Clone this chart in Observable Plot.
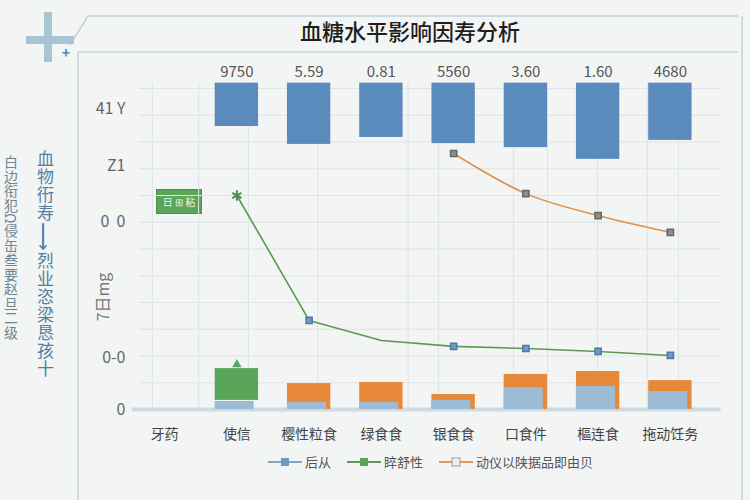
<!DOCTYPE html>
<html><head><meta charset="utf-8">
<script src="https://cdn.jsdelivr.net/npm/d3@7"></script>
<script src="https://cdn.jsdelivr.net/npm/@observablehq/plot@0.6"></script>
<style>
body{margin:0;background:#f3f4f4;font-family:"Noto Sans CJK SC","Noto Sans",sans-serif;}
#wrap{position:relative;width:750px;height:500px;overflow:hidden;background:#f3f4f4;}
#plot{position:absolute;left:0;top:0;}
.abs{position:absolute;}
.vert{writing-mode:vertical-rl;white-space:nowrap;}
#legend{position:absolute;top:452px;left:268px;display:flex;gap:16px;font-size:13px;color:#555;align-items:center;}
#legend span.item{display:flex;align-items:center;gap:3px;}
</style></head>
<body><div id="wrap">
<svg class="abs" width="750" height="500" style="left:0;top:0">
  <polyline points="738,16 88,16 70,45" fill="none" stroke="#bfd0da" stroke-width="1.5"/>
  <line x1="78" y1="52" x2="738" y2="52" stroke="#c6d4dc" stroke-width="1.5"/>
  <line x1="78" y1="52" x2="78" y2="500" stroke="#c6d4dc" stroke-width="1.5"/>
  <line x1="742" y1="16" x2="742" y2="500" stroke="#c6d4dc" stroke-width="1.5"/>
  <rect x="44" y="12" width="8" height="50" fill="#a9c5d4"/>
  <rect x="26" y="36" width="48" height="8" fill="#a9c5d4"/>
  <text x="66" y="58" font-size="14" fill="#4f86b8" text-anchor="middle" font-weight="bold">+</text>
</svg>
<div class="abs" style="left:0;width:820px;top:14px;text-align:center;font-size:22px;color:#1e1e1e;font-weight:500;">血糖水平影响因寿分析</div>
<div class="abs vert" style="left:31px;top:150px;font-size:17px;color:#4f7fa6;letter-spacing:1px;">血物衎寿<span style="font-size:20px">⟶</span>烈业恣梁恳孩十</div>
<div class="abs vert" style="left:1px;top:155px;font-size:14px;color:#6f8594;letter-spacing:0.5px;">白边衔犯Ω侵缶叁要赵旦二级</div>
<div class="abs" style="left:78px;top:285px;font-size:16px;color:#777;transform:rotate(-90deg);">7日mg</div>
<div class="abs" style="left:156px;top:189px;width:44px;height:23px;background:#5aa55a;border:1px solid #4a9050;color:#e8f4e8;font-size:10px;line-height:23px;text-align:center;">日 ⊞ 粘</div>
<div id="plot"></div>
<div id="legend">
  <span class="item"><svg width="34" height="10"><line x1="0" y1="5" x2="34" y2="5" stroke="#7ea6c8" stroke-width="2"/><rect x="13" y="1" width="8" height="8" fill="#6f98c2"/></svg>后从</span>
  <span class="item"><svg width="34" height="10"><line x1="0" y1="5" x2="34" y2="5" stroke="#5a9a50" stroke-width="2"/><rect x="13" y="1" width="8" height="8" fill="#5aa55a"/></svg>睟舒性</span>
  <span class="item"><svg width="34" height="10"><line x1="0" y1="5" x2="34" y2="5" stroke="#e39a5a" stroke-width="2"/><rect x="13" y="1" width="8" height="8" fill="#eee" stroke="#999"/></svg>动仪以陕据品即由贝</span>
</div>
</div>
<script>
const categories = ["牙药","使信","樱性粒食","绿食食","银食食","口食件","樞连食","拖动饪务"];
const topLabels = ["9750","5.59","0.81","5560","3.60","1.60","4680"];
const topBarIdx = [1,2,3,4,5,6,7];
const topBarEnd = [10.58,9.91,10.17,9.94,9.79,9.35,10.06];
const topBarStart = 12.2;
const greenIdx = [1,2,3,4,5,6,7];
const greenLine = [8.0,3.33,2.58,2.36,2.28,2.17,2.02];
const blueIdx = [2,4,5,6,7];
const blueMarkers = [3.33,2.36,2.28,2.17,2.02];
const orangeIdx = [4,5,6,7];
const orangeLine = [9.57,8.07,7.25,6.62];
const orangeBarIdx = [2,3,4,5,6,7];
const orangeBars = [0.97,1.01,0.56,1.31,1.42,1.08];
const greenBarIdx = [1];
const greenBarLow = [0.34];
const greenBarHigh = [1.53];
const lightBlueIdx = [1,2,3,4,5,6,7];
const lightBlueBars = [0.3,0.26,0.26,0.34,0.82,0.86,0.67];
const yTickValues = [0,1.94,7.03,9.12,11.25];
const yTickLabels = ["0","0-0","0  0","Z1","41 Y"];
const gridYValues = d3.range(0,13);
const gridXValues = [-0.17,0.47,1.16,2.12,3.37,3.79,4.83,5.3,5.99,6.68,7.11];

const topBars = topBarIdx.map((i,k)=>({i, y1: topBarStart, y2: topBarEnd[k], label: topLabels[k]}));
const green = greenIdx.map((i,k)=>({i, v: greenLine[k]}));
const blue = blueIdx.map((i,k)=>({i, v: blueMarkers[k]}));
const orange = orangeIdx.map((i,k)=>({i, v: orangeLine[k]}));
const oBars = orangeBarIdx.map((i,k)=>({i, v: orangeBars[k]}));
const gBars = greenBarIdx.map((i,k)=>({i, lo: greenBarLow[k], hi: greenBarHigh[k]}));
const lbBars = lightBlueIdx.map((i,k)=>({i, v: lightBlueBars[k]}));

const chart = Plot.plot({
  width: 750, height: 500,
  marginLeft: 128, marginRight: 44, marginTop: 88, marginBottom: 91,
  style: {background: "transparent", fontFamily: "'Noto Sans CJK SC', sans-serif"},
  x: {domain: [-0.5, 7.5], axis: null},
  y: {domain: [0, 12], axis: null},
  marks: [
    Plot.ruleY(gridYValues, {y: d=>d, x1: -0.35, x2: 7.7, stroke: "#dde3e6", strokeWidth: 1}),
    Plot.ruleX(gridXValues, {x: d=>d, y1: 0, y2: 12.2, stroke: "#dde3e6", strokeWidth: 1}),
    Plot.ruleY([0], {x1: -0.45, x2: 7.7, stroke: "#cddbe4", strokeWidth: 4}),
    Plot.rectY(topBars, {x1: d=>d.i-0.3, x2: d=>d.i+0.3, y1: "y1", y2: "y2", fill: "#5b8bbd"}),
    Plot.text(topBars, {x: "i", y: 12.62, text: "label", fontSize: 15, fill: "#555"}),
    Plot.rectY(oBars, {x1: d=>d.i-0.3, x2: d=>d.i+0.3, y1: 0, y2: "v", fill: "#e8893a"}),
    Plot.rectY(gBars, {x1: d=>d.i-0.3, x2: d=>d.i+0.3, y1: "lo", y2: "hi", fill: "#5aa55a"}),
    Plot.dot(gBars, {x: "i", y: d=>d.hi+0.15, symbol: "triangle", r: 3.5, fill: "#5aa55a"}),
    Plot.rectY(lbBars, {x1: d=>d.i-0.3, x2: d=>d.i+0.24, y1: 0, y2: "v", fill: "#9cbcd6"}),
    Plot.line(orange, {x: "i", y: "v", stroke: "#e0904a", strokeWidth: 1.6, curve: "monotone-x"}),
    Plot.dot(orange, {x: "i", y: "v", symbol: "square", r: 3.5, fill: "#8a8f96", stroke: "#666"}),
    Plot.line(green, {x: "i", y: "v", stroke: "#5a9a50", strokeWidth: 1.6, curve: "linear"}),
    Plot.dot(green.slice(0,1), {x: "i", y: "v", symbol: "asterisk", r: 5, stroke: "#4a9050", strokeWidth: 2}),
    Plot.dot(blue, {x: "i", y: "v", symbol: "square", r: 3.5, fill: "#6f98c2", stroke: "#4f78a6"}),
    Plot.axisX({ticks: d3.range(8), tickFormat: i=>categories[i], tickSize: 0, tickPadding: 20, fontSize: 14, fill: "#444", anchor: "bottom", label: null}),
    Plot.axisY({ticks: yTickValues, tickFormat: (d,k)=>yTickLabels[k], tickSize: 0, tickPadding: 3, fontSize: 16, fill: "#666", anchor: "left", label: null})
  ]
});
document.getElementById("plot").appendChild(chart);
</script>
</body></html>
